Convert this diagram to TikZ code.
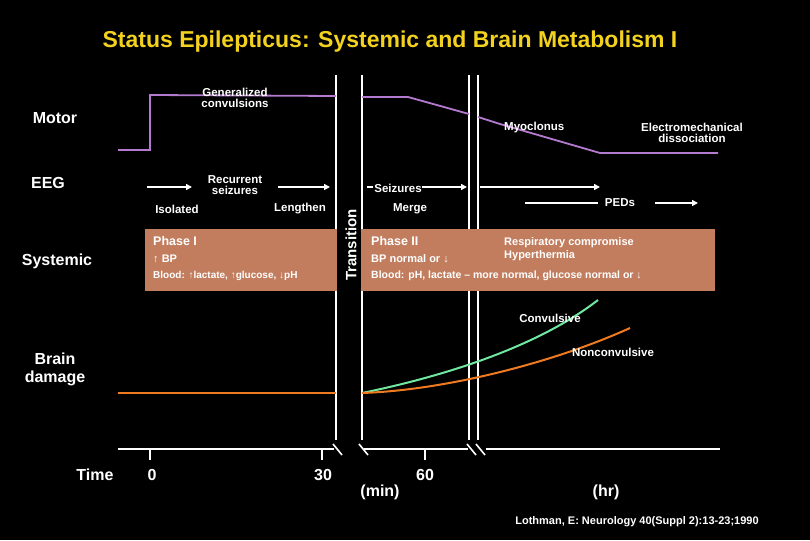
\documentclass[tikz,border=0pt]{standalone}
\usepackage{fontspec}
\setmainfont{Liberation Sans}
\usetikzlibrary{arrows.meta}
\definecolor{mot}{HTML}{B47ACF}
\definecolor{box}{HTML}{C27D5E}
\definecolor{ttl}{HTML}{F2D21E}
\definecolor{org}{HTML}{F07A20}
\definecolor{grn}{HTML}{70E8A0}
\begin{document}
\begin{tikzpicture}[x=1pt,y=-1pt,
 lab/.style={text=white,font=\bfseries\fontsize{16}{16}\selectfont},
 sm/.style={text=white,font=\bfseries\fontsize{11.5}{11}\selectfont,align=center,inner sep=1pt},
 bx/.style={text=white,font=\bfseries\fontsize{11}{11}\selectfont,anchor=west,inner sep=0pt},
 arr/.style={white,line width=1.6pt,-{Triangle[length=6pt,width=6pt]}},
 vl/.style={white,line width=1.8pt}]
\fill[black] (0,0) rectangle (810,540);
\useasboundingbox (0,0) rectangle (810,540);
\node[text=ttl,font=\bfseries\fontsize{23}{23}\selectfont] (title) at (390,42) {Status Epilepticus: Systemic and Brain Metabolism I};
\node[lab] (motor) at (55,118) {Motor};
\node[lab] (eeg) at (48,183) {EEG};
\node[lab] (sys) at (57,261) {Systemic};
\node[lab,align=center,font=\bfseries\fontsize{16}{18}\selectfont] (brain) at (55,369) {Brain\\damage};
\node[lab] (time) at (95,475) {Time};
% vertical lines
\draw[vl] (336,75) -- (336,440);
\draw[vl] (362,75) -- (362,440);
\draw[vl] (469,75) -- (469,440);
\draw[vl] (478,75) -- (478,440);
% systemic box
\fill[box] (145,229) rectangle (715,291);
\fill[black] (337,225) rectangle (361,295);
\node[bx,font=\bfseries\fontsize{12.5}{12}\selectfont] (p1) at (153,241) {Phase I};
\node[bx] (bp1) at (153,259) {↑ BP};
\node[bx,font=\bfseries\fontsize{10}{10}\selectfont] (bl1) at (153,276) {Blood: ↑lactate, ↑glucose, ↓pH};
\node[bx,font=\bfseries\fontsize{12.5}{12}\selectfont] (p2) at (371,241) {Phase II};
\node[bx] (bp2) at (371,259) {BP normal or ↓};
\node[bx,font=\bfseries\fontsize{10.5}{10}\selectfont] (bl2) at (371,276) {Blood:  pH, lactate -- more normal, glucose normal or ↓};
\node[bx] (resp) at (504,243) {Respiratory compromise};
\node[bx] (hyp) at (504,256) {Hyperthermia};
\node[text=white,font=\bfseries\fontsize{15}{15}\selectfont,rotate=90] (tr) at (351,245) {Transition};
% motor
\draw[mot,line width=1.8pt] (118,150) -- (150,150) -- (150,95) -- (336,96);
\draw[mot,line width=1.8pt] (362,97) -- (408,97) -- (469,114);
\draw[mot,line width=1.8pt] (478,117) -- (500,124);
\draw[mot,line width=1.8pt] (500,124) -- (600,153) -- (718,153);
\node[sm] (gc) at (235,98) {Generalized\\convulsions};
\node[sm,anchor=west] (myo) at (503,128) {Myoclonus};
\node[sm] (em) at (692,133) {Electromechanical\\dissociation};
% EEG
\draw[arr] (147,187) -- (192,187);
\draw[arr] (278,187) -- (330,187);
\draw[white,line width=1.6pt] (367,187) -- (373,187);
\draw[arr] (422,187) -- (467,187);
\draw[arr] (480,187) -- (600,187);
\draw[white,line width=1.6pt] (525,203) -- (598,203);
\draw[arr] (655,203) -- (698,203);
\node[sm] (rs) at (235,185) {Recurrent\\seizures};
\node[sm] (iso) at (177,209) {Isolated};
\node[sm] (len) at (300,209) {Lengthen};
\node[sm] (sz) at (398,188) {Seizures};
\node[sm] (mg) at (410,209) {Merge};
\node[sm] (ped) at (620,203) {PEDs};
% brain damage
\draw[org,line width=2pt] (118,393) -- (336,393);
\draw[grn,line width=2pt] (362,393) .. controls (450,375) and (540,345) .. (598,300);
\draw[org,line width=2pt] (362,393) .. controls (450,390) and (560,360) .. (630,328);
\node[sm] (cv) at (550,318) {Convulsive};
\node[sm] (ncv) at (613,352) {Nonconvulsive};
% time axis
\fill[black] (330,442) rectangle (370,456);
\fill[black] (466,442) rectangle (488,456);
\draw[white,line width=1.2pt] (118,449) -- (334,449);
\draw[white,line width=1.2pt] (364,449) -- (468,449);
\draw[white,line width=1.2pt] (486,449) -- (720,449);
\foreach \x in {336,362,470,479}{\draw[white,line width=1.6pt] (\x-3,444) -- (\x+6,455);}
\foreach \x in {150,322,425}{\draw[white,line width=1.2pt] (\x,449) -- (\x,460);}
\node[sm,font=\bfseries\fontsize{16}{16}\selectfont] (t0) at (152,475) {0};
\node[sm,font=\bfseries\fontsize{16}{16}\selectfont] (t30) at (323,475) {30};
\node[sm,font=\bfseries\fontsize{16}{16}\selectfont] (t60) at (425,475) {60};
\node[sm,font=\bfseries\fontsize{16}{16}\selectfont] (min) at (380,492) {(min)};
\node[sm,font=\bfseries\fontsize{16}{16}\selectfont] (hr) at (606,492) {(hr)};
\node[sm,font=\bfseries\fontsize{11}{11}\selectfont] (cite) at (637,522) {Lothman, E: Neurology 40(Suppl 2):13-23;1990};
\end{tikzpicture}
\end{document}
